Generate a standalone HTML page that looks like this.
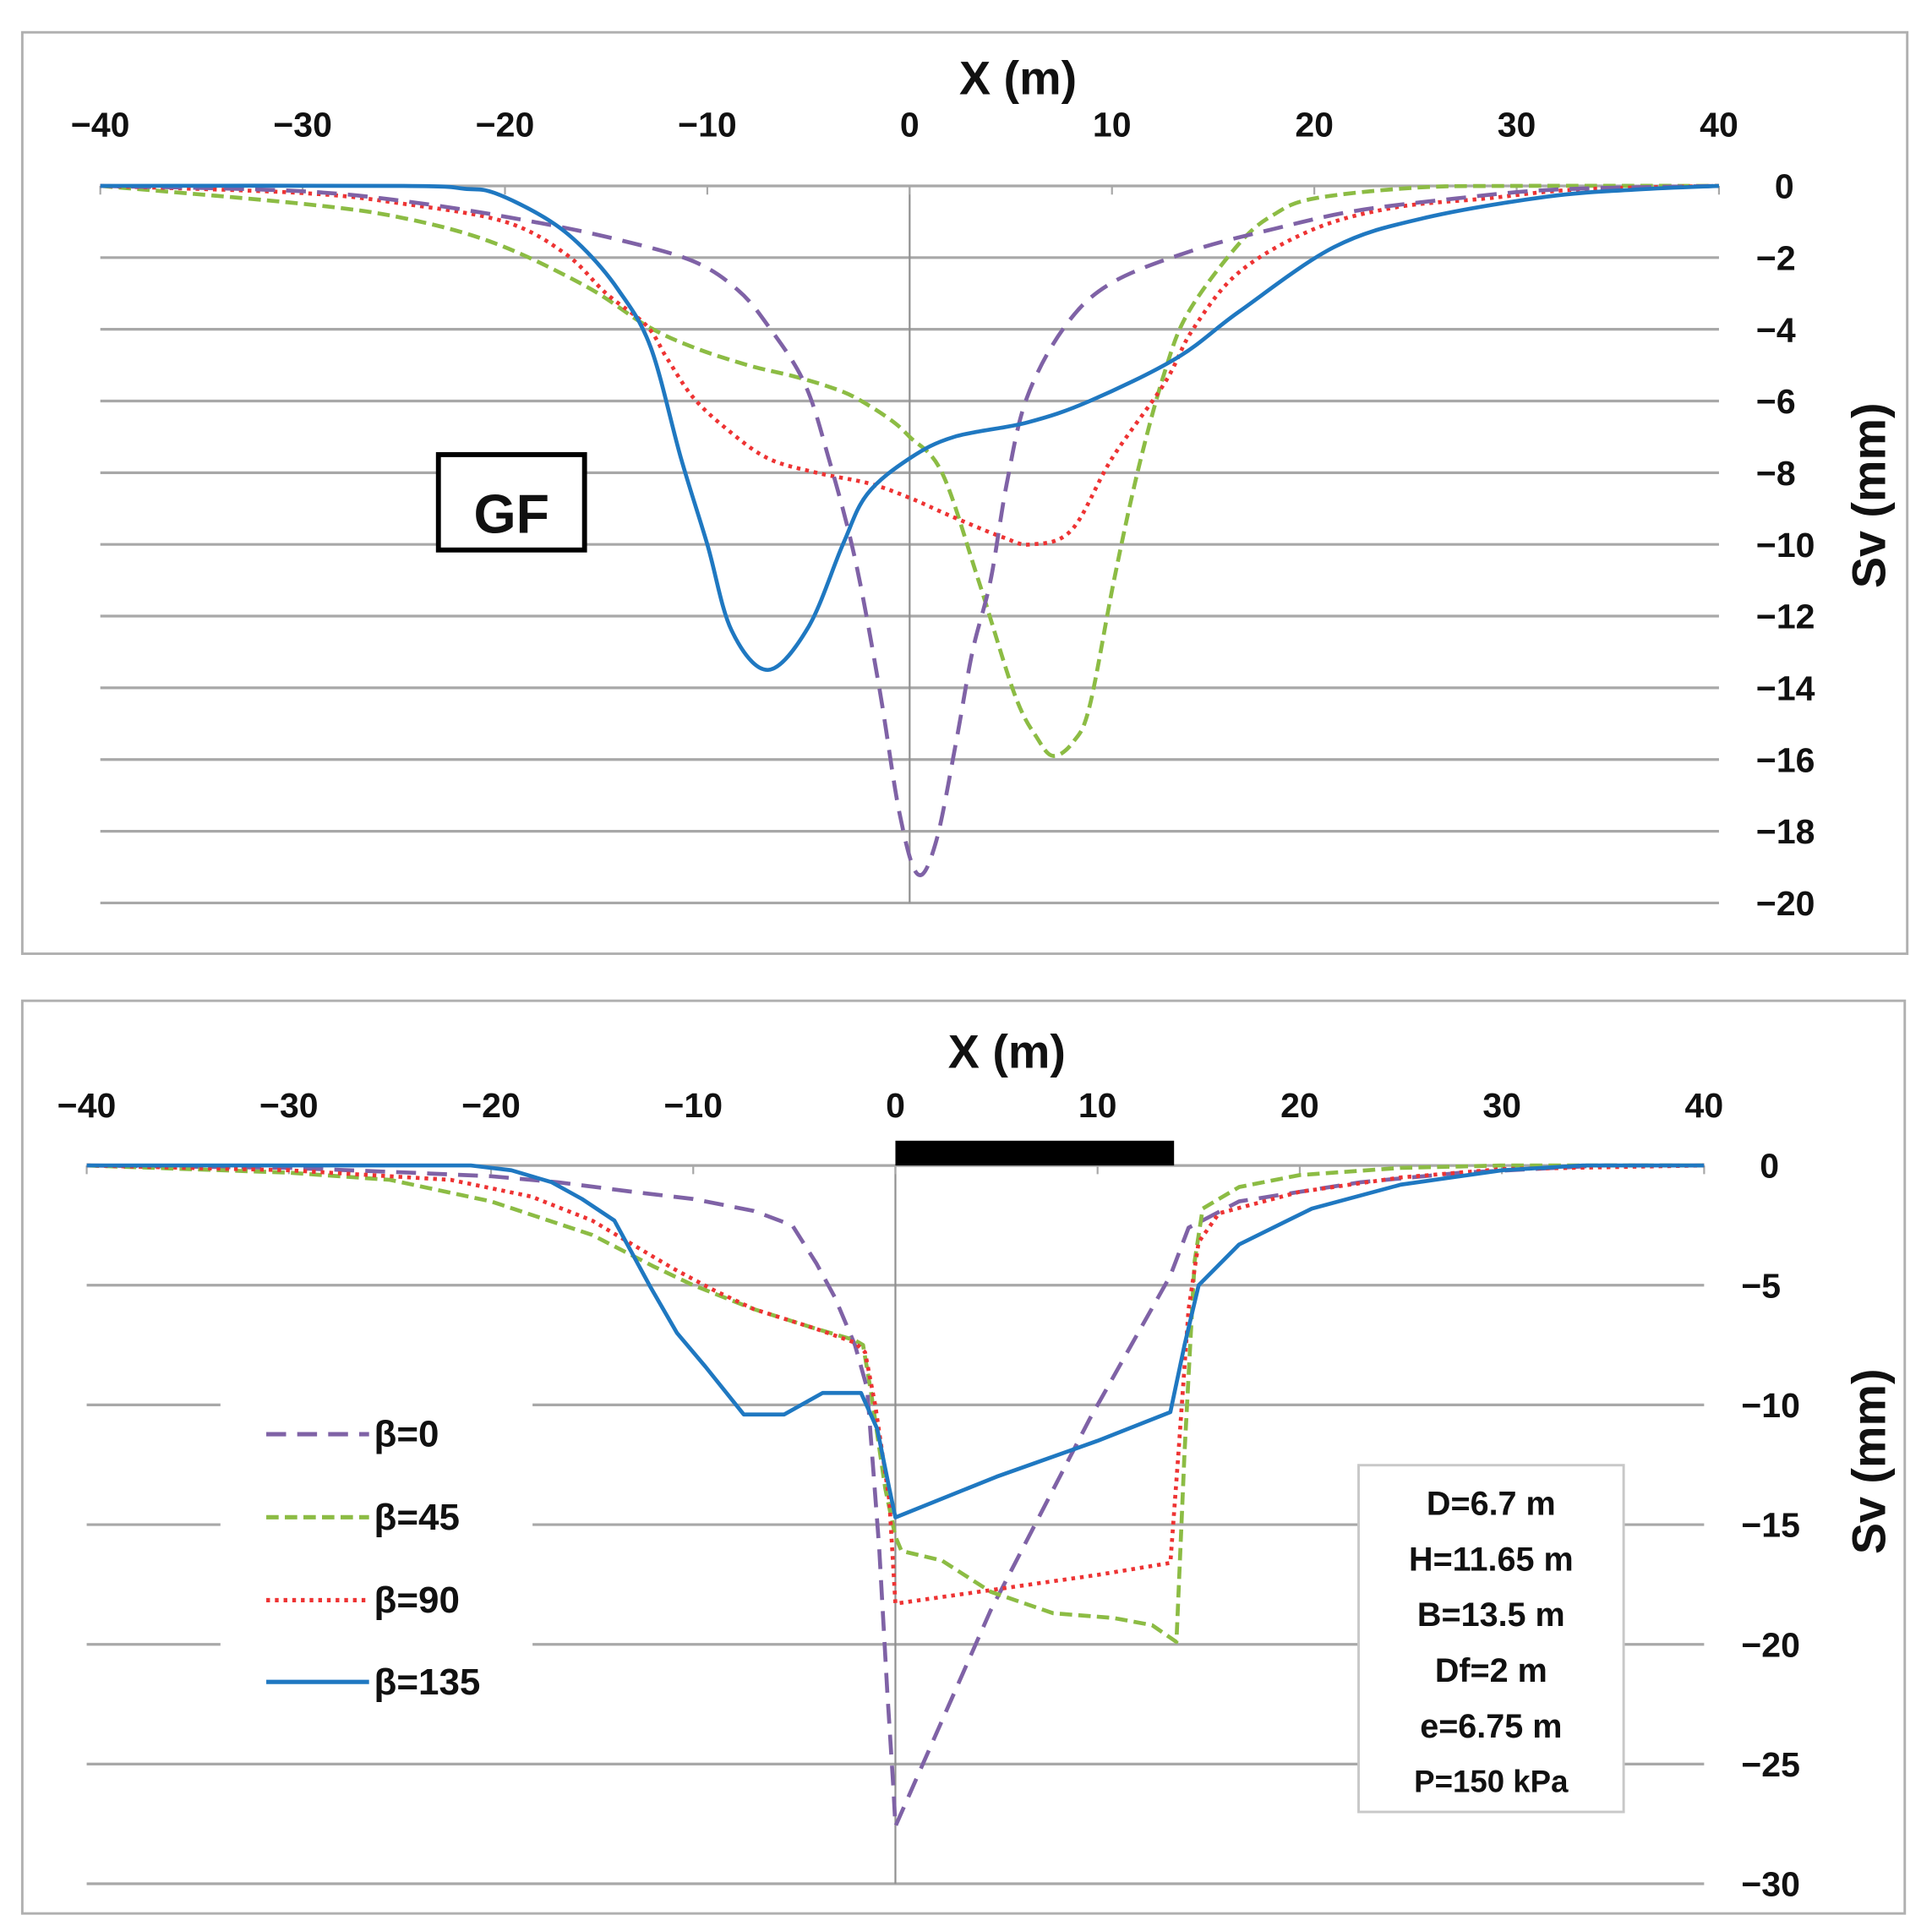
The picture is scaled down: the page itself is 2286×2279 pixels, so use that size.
<!DOCTYPE html>
<html><head><meta charset="utf-8"><style>
html,body{margin:0;padding:0;background:#fff;}
svg{display:block;}
text{font-family:"Liberation Sans",sans-serif;font-weight:bold;fill:#111;}
</style></head><body>
<svg id="s" width="2286" height="2279" viewBox="0 0 1560 1555" xmlns="http://www.w3.org/2000/svg">
<rect x="0" y="0" width="1560" height="1555" fill="#fff"/>
<!-- top chart frame -->
<rect x="18" y="26" width="1522" height="744" fill="none" stroke="#b0b0b0" stroke-width="2"/>
<g id="topgrid"></g>
<text x="822" y="76" font-size="38" text-anchor="middle">X (m)</text>
<g id="topx" font-size="28"></g>
<g id="topy" font-size="28"></g>
<text transform="translate(1522,400) rotate(-90)" font-size="38" text-anchor="middle">Sv (mm)</text>
<rect x="354" y="367" width="118" height="77" fill="#fff" stroke="#000" stroke-width="4"/>
<text x="413" y="430" font-size="44" text-anchor="middle">GF</text>
<g id="topseries"></g>

<!-- bottom chart frame -->
<rect x="18" y="808" width="1520" height="737" fill="none" stroke="#b0b0b0" stroke-width="2"/>
<g id="botgrid"></g>
<text x="813" y="862" font-size="38" text-anchor="middle">X (m)</text>
<g id="botx" font-size="28"></g>
<g id="boty" font-size="28"></g>
<text transform="translate(1522,1180) rotate(-90)" font-size="38" text-anchor="middle">Sv (mm)</text>
<rect x="178" y="1100" width="252" height="290" fill="#fff"/>
<g id="botseries"></g>
<rect x="723" y="921" width="225" height="20" fill="#000"/>
<!-- legend -->
<g stroke-width="3.5" fill="none">
<line x1="215" y1="1158" x2="298" y2="1158" stroke="#7f62a6" stroke-dasharray="16,9"/>
<line x1="215" y1="1225" x2="298" y2="1225" stroke="#8cbc44" stroke-dasharray="10,5"/>
<line x1="215" y1="1292" x2="298" y2="1292" stroke="#ee3333" stroke-dasharray="3,4"/>
<line x1="215" y1="1358" x2="298" y2="1358" stroke="#1f78c1"/>
</g>
<g font-size="30">
<text x="302" y="1168">β=0</text>
<text x="302" y="1235">β=45</text>
<text x="302" y="1302">β=90</text>
<text x="302" y="1368">β=135</text>
</g>
<rect x="1097" y="1183" width="214" height="280" fill="#fff" stroke="#c8c8c8" stroke-width="2"/>
<g font-size="27" text-anchor="middle">
<text x="1204" y="1223">D=6.7 m</text>
<text x="1204" y="1268">H=11.65 m</text>
<text x="1204" y="1313">B=13.5 m</text>
<text x="1204" y="1358">Df=2 m</text>
<text x="1204" y="1403">e=6.75 m</text>
<text x="1204" y="1447" font-size="25">P=150 kPa</text>
</g>
</svg>
<script>
var NS="http://www.w3.org/2000/svg";
function el(p,t,a,txt){var e=document.createElementNS(NS,t);for(var k in a)e.setAttribute(k,a[k]);if(txt!==undefined)e.textContent=txt;p.appendChild(e);return e;}
var C={p:"#7f62a6",g:"#8cbc44",r:"#ee3333",b:"#1f78c1"};
var D={p:"16,9",g:"10,5",r:"3,4",b:""};
function chart(o){
  var X=function(x){return o.x0+(x+40)*(o.x1-o.x0)/80;};
  var Y=function(y){return o.y0+(y/o.ymin)*(o.y1-o.y0);};
  var g=document.getElementById(o.id+"grid");
  for(var v=0;v>=o.ymin;v-=o.ystep){
    el(g,"line",{x1:o.x0,x2:o.x1,y1:Y(v),y2:Y(v),stroke:"#a8a8a8","stroke-width":2.2});
    el(document.getElementById(o.id+"y"),"text",{x:o.x1+(v==0?45:30),y:Y(v)+10,"text-anchor":"start"},v==0?"0":"\u2212"+(-v));
  }
  el(g,"line",{x1:X(0),x2:X(0),y1:Y(0),y2:Y(o.ymin),stroke:"#909090","stroke-width":1.5});
  for(var x=-40;x<=40;x+=10){
    el(g,"line",{x1:X(x),x2:X(x),y1:Y(0),y2:Y(0)+7,stroke:"#a8a8a8","stroke-width":1.5});
    el(document.getElementById(o.id+"x"),"text",{x:X(x),y:o.ty,"text-anchor":"middle"},x<0?"\u2212"+(-x):""+x);
  }
  var sg=document.getElementById(o.id+"series");
  for(var k in o.data){
    var pts=o.data[k].map(function(p){return [X(p[0]),Y(p[1])];});
    var d="M"+pts[0][0]+","+pts[0][1];
    if(o.smooth){
      for(var i=0;i<pts.length-1;i++){
        var p0=pts[Math.max(0,i-1)],p1=pts[i],p2=pts[i+1],p3=pts[Math.min(pts.length-1,i+2)];
        var t=6;
        d+=" C"+(p1[0]+(p2[0]-p0[0])/t)+","+(p1[1]+(p2[1]-p0[1])/t)+" "+(p2[0]-(p3[0]-p1[0])/t)+","+(p2[1]-(p3[1]-p1[1])/t)+" "+p2[0]+","+p2[1];
      }
    } else {for(var i=1;i<pts.length;i++)d+=" L"+pts[i][0]+","+pts[i][1];}
    var a={d:d,fill:"none",stroke:C[k],"stroke-width":3.2,"stroke-linejoin":"round"};
    if(D[k])a["stroke-dasharray"]=D[k];
    el(sg,"path",a);
  }
}
chart({id:"top",x0:81,x1:1388,y0:150,y1:729,ymin:-20,ystep:2,ty:110,smooth:true,data:{
 g:[[-40,0],[-30,-0.5],[-25,-0.9],[-20.5,-1.6],[-16,-2.8],[-13,-3.9],[-10.7,-4.5],[-8,-5],[-5.8,-5.3],[-4,-5.6],[-2.7,-5.9],[-1,-6.5],[0,-7],[1.6,-8],[3.4,-11],[5.2,-14.2],[6.3,-15.4],[7.1,-15.9],[8.1,-15.5],[8.9,-14.5],[10.1,-11],[11.3,-7.9],[12.6,-5.2],[13.8,-3.5],[16.3,-1.6],[18,-0.8],[20,-0.35],[25,-0.05],[30,0],[40,0]],
 r:[[-40,0],[-30,-0.2],[-25,-0.5],[-20,-1],[-17,-1.9],[-15,-3],[-13,-3.9],[-12,-4.8],[-10.7,-5.9],[-9,-6.8],[-7,-7.6],[-4.6,-8],[-2,-8.3],[0,-8.7],[2,-9.2],[4.6,-9.8],[6,-10],[8,-9.6],[10,-7.6],[12.6,-5.5],[14,-4],[16.3,-2.4],[20,-1.2],[24,-0.6],[28.5,-0.35],[33,-0.1],[40,0]],
 p:[[-40,0],[-30,-0.15],[-24,-0.5],[-18.6,-1],[-14.4,-1.5],[-10.7,-2.1],[-8.5,-2.9],[-7,-3.9],[-5.2,-5.5],[-4,-7.6],[-2.7,-10.4],[-1.5,-14],[-0.5,-17.5],[0.4,-19.2],[1.3,-18.3],[2.3,-15.5],[3.1,-13],[4,-11],[4.8,-8.3],[5.8,-5.9],[7.7,-3.9],[10,-2.7],[14,-1.8],[18,-1.2],[22,-0.7],[27,-0.35],[32,-0.1],[40,0]],
 b:[[-40,0],[-25,0],[-22,-0.08],[-20.5,-0.2],[-18,-0.9],[-16.2,-1.7],[-14.4,-2.9],[-12.8,-4.5],[-11.3,-7.6],[-10,-10],[-8.8,-12.4],[-7,-13.5],[-5,-12.3],[-3.3,-10],[-2.1,-8.6],[0,-7.6],[2.2,-7],[5.8,-6.6],[8.9,-6],[13.2,-4.8],[16.3,-3.5],[21,-1.7],[25.4,-0.9],[31.5,-0.3],[36,-0.1],[40,0]]
}});
chart({id:"bot",x0:70,x1:1376,y0:941,y1:1521,ymin:-30,ystep:5,ty:902,smooth:false,data:{
 p:[[-40,0],[-30,-0.1],[-24,-0.3],[-20,-0.45],[-16.7,-0.7],[-13,-1.1],[-10,-1.4],[-7,-1.9],[-5.1,-2.5],[-3.9,-4.1],[-3,-5.5],[-2,-7.5],[-1.4,-9.3],[-0.8,-16],[-0.4,-22],[-0.1,-26],[0,-27.6],[4.7,-18.6],[9.6,-10.6],[13.6,-4.6],[14.5,-2.6],[17,-1.5],[23,-0.7],[28,-0.3],[35,0],[40,0]],
 g:[[-40,0],[-30,-0.3],[-25,-0.6],[-20,-1.5],[-15,-2.9],[-12,-4.2],[-10,-5],[-7,-6],[-4,-6.8],[-2,-7.3],[-1.6,-7.5],[-1.2,-9.5],[-0.5,-13.5],[0,-15.5],[0.3,-16.1],[2.3,-16.5],[4.7,-17.8],[7.8,-18.7],[10.8,-18.9],[12.7,-19.2],[13.9,-19.9],[14.3,-12],[14.8,-4],[15.2,-1.8],[17,-0.9],[20,-0.4],[25,-0.1],[30,0],[40,0]],
 r:[[-40,0],[-30,-0.2],[-22,-0.6],[-18,-1.3],[-15,-2.3],[-13,-3.3],[-11,-4.3],[-9,-5.2],[-7,-6],[-4,-6.8],[-2,-7.4],[-1.5,-7.8],[-1,-10],[-0.3,-14],[0,-18.3],[5,-17.7],[10,-17.1],[13.6,-16.6],[14,-12],[14.5,-6],[15,-3.2],[16,-2],[20,-1.1],[25,-0.5],[30,-0.15],[40,0]],
 b:[[-40,0],[-21,0],[-19,-0.2],[-17,-0.7],[-15.5,-1.4],[-13.9,-2.3],[-12.1,-5.1],[-10.8,-7],[-9.4,-8.4],[-7.5,-10.4],[-5.5,-10.4],[-3.6,-9.5],[-1.7,-9.5],[-0.9,-11],[-0.3,-13.5],[0,-14.7],[5,-13],[10,-11.5],[13.6,-10.3],[14.3,-7.5],[15,-5],[17,-3.3],[20.6,-1.8],[25,-0.8],[30,-0.2],[34,0],[40,0]]
}});
</script>
</body></html>
